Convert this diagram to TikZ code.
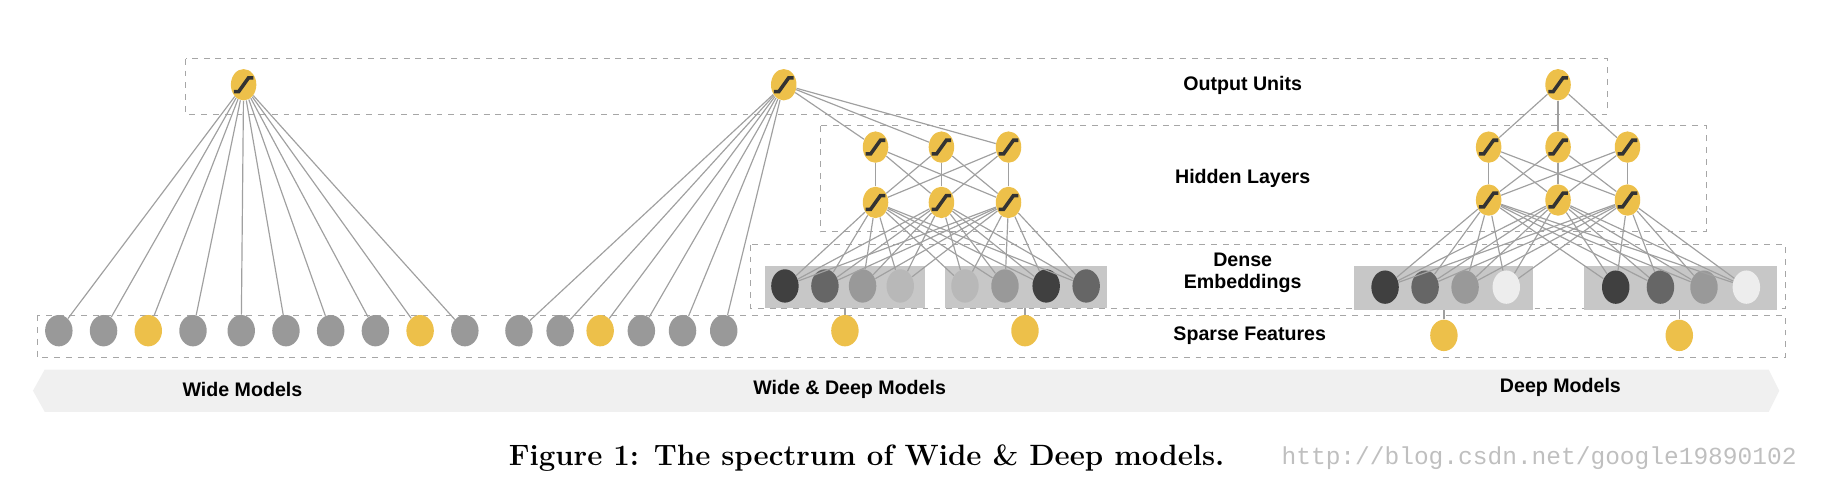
\documentclass[tikz,border=0pt]{standalone}
\usepackage{fontspec}
\newfontfamily\labf{Liberation Sans}
\newfontfamily\wmf{Liberation Mono}
\usetikzlibrary{shapes.geometric}
\definecolor{yel}{HTML}{EDC04A}
\definecolor{lin}{HTML}{A0A0A0}
\begin{document}
\begin{tikzpicture}[x=0.6pt,y=-0.6pt,
  sp/.style={ellipse,inner sep=0,minimum width=14pt,minimum height=16pt,fill=#1},
  act/.style={ellipse,inner sep=0,minimum width=13pt,minimum height=16pt,fill=yel},
  em/.style={ellipse,inner sep=0,minimum width=14pt,minimum height=17pt,fill=#1},
  box/.style={draw=gray!70,dashed,line width=0.5pt},
  erect/.style={fill=black!22},
  ln/.style={draw=lin,line width=0.6pt},
  lab/.style={font=\labf\bfseries\fontsize{10}{12}\selectfont,align=center}]
\useasboundingbox (0,0) rectangle (1550,421.4);
% band
\fill[black!6] (28,332)--(38,314)--(1503,314)--(1512,332)--(1503,350)--(38,350)--cycle;
\node[lab] at (206,331) {Wide Models};
\node[lab] at (722,331) {Wide \& Deep Models};
\node[lab] at (1326,329) {Deep Models};
% boxes
\draw[box] (158,50) rectangle (1366,97);
\draw[box] (697,107) rectangle (1450,197);
\draw[box] (638,208) rectangle (1517,262);
\draw[box] (32,268) rectangle (1517,304);
\fill[erect] (650,226) rectangle (786,262);
\fill[erect] (803,226) rectangle (941,262);
\fill[erect] (1151,226) rectangle (1303,263);
\fill[erect] (1346,226) rectangle (1510,263);
% labels
\node[lab] at (1056,73) {Output Units};
\node[lab] at (1056,152) {Hidden Layers};
\node[lab] at (1056,232) {Dense\\[-1pt]Embeddings};
\node[lab] at (1062,285) {Sparse Features};
% wide
\node[act] (wo) at (207,72) {};
\foreach \x/\c [count=\i] in {50/black!40,88/black!40,126/yel,164/black!40,205/black!40,243/black!40,281/black!40,319/black!40,357/yel,395/black!40}
  \node[sp=\c] (w\i) at (\x,281) {};
% wide & deep
\node[act] (wdo) at (666,72) {};
\foreach \x/\c [count=\i] in {441/black!40,476/black!40,510/yel,545/black!40,580/black!40,615/black!40}
  \node[sp=\c] (wd\i) at (\x,281) {};
\foreach \x [count=\i] in {744,800,857}{
  \node[act] (wh\i) at (\x,125) {};
  \node[act] (wl\i) at (\x,172) {};}
\foreach \x/\c [count=\i] in {667/black!75,701/black!60,733/black!40,765/black!28,820/black!28,854/black!40,889/black!75,923/black!60}
  \node[em=\c] (we\i) at (\x,243) {};
\node[sp=yel] (ws1) at (718,281) {};
\node[sp=yel] (ws2) at (871,281) {};
\coordinate (wr1) at (718,262);
\coordinate (wr2) at (871,262);
% deep
\node[act] (do) at (1324,72) {};
\foreach \x [count=\i] in {1265,1324,1383}{
  \node[act] (dh\i) at (\x,125) {};
  \node[act] (dl\i) at (\x,170) {};}
\foreach \x/\c [count=\i] in {1177/black!75,1211/black!60,1245/black!40,1280/black!7,1373/black!75,1411/black!60,1448/black!40,1484/black!7}
  \node[em=\c] (de\i) at (\x,244) {};
\node[sp=yel] (ds1) at (1227,285) {};
\node[sp=yel] (ds2) at (1427,285) {};
\coordinate (dr1) at (1227,263);
\coordinate (dr2) at (1427,263);
% glyphs
\foreach \n in {wo,wdo,do,wh1,wh2,wh3,wl1,wl2,wl3,dh1,dh2,dh3,dl1,dl2,dl3}
  \draw[black!80,line width=1.8pt] ([shift={(-5pt,-3.5pt)}]\n.center) -- ++(2.5pt,0) -- ++(5pt,7pt) -- ++(2.5pt,0);
% connectors
\foreach \i in {1,...,10} \draw[ln] (wo) -- (w\i);
\foreach \i in {1,...,6} \draw[ln] (wdo) -- (wd\i);
\foreach \i in {1,2,3}{
  \draw[ln] (wdo) -- (wh\i);
  \draw[ln] (do) -- (dh\i);
  \foreach \j in {1,2,3}{
    \draw[ln] (wh\i) -- (wl\j);
    \draw[ln] (dh\i) -- (dl\j);}
  \foreach \j in {1,...,8}{
    \draw[ln] (wl\i) -- (we\j);
    \draw[ln] (dl\i) -- (de\j);}}
\foreach \i in {1,2}{
  \draw[ln] (ws\i) -- (wr\i);
  \draw[ln] (ds\i) -- (dr\i);}
% caption
\node[font=\wmf\fontsize{12.5}{14}\selectfont,text=black!25,anchor=east,inner sep=0] at (1527,389) {http://blog.csdn.net/google19890102};
\node[font=\bfseries\fontsize{15}{18}\selectfont,anchor=west,inner sep=0] at (432,389) {Figure 1: The spectrum of Wide \& Deep models.};
\end{tikzpicture}
\end{document}
